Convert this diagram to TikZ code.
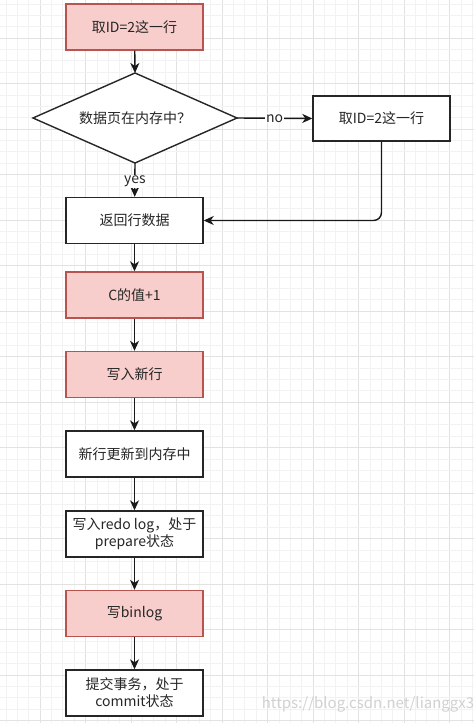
\documentclass[tikz,border=0pt]{standalone}
\usepackage{fontspec}
\setmainfont{Noto Sans CJK SC}
\usetikzlibrary{shapes.geometric,arrows.meta}
\definecolor{pinkfill}{HTML}{F8CECC}
\definecolor{pinkline}{HTML}{B85450}
\definecolor{gridminor}{HTML}{F2F2F2}
\definecolor{gridmajor}{HTML}{E2E2E2}
\begin{document}
\begin{tikzpicture}[x=1pt,y=-1pt,
  every node/.style={font=\fontsize{14}{17}\selectfont,text=black!85},
  box/.style={draw=black!85,line width=1.4pt,fill=white,rectangle,minimum width=137pt,minimum height=46pt,inner sep=2pt,align=center},
  pinkbox/.style={box,draw=pinkline,fill=pinkfill},
  dshape/.style={draw=black!85,line width=1.4pt,fill=white},
  flow/.style={draw=black!90,line width=1.4pt,-{Stealth[length=10pt,width=9pt,inset=3pt]}},
  lbl/.style={fill=white,inner sep=1pt}]
\useasboundingbox (0,0) rectangle (474,723);
\fill[white] (0,0) rectangle (474,723);
% grid
\foreach \i in {0,...,42}{
  \pgfmathsetmacro{\xx}{-5.5+11.375*\i}
  \pgfmathtruncatemacro{\m}{mod(\i,4)}
  \ifnum\m=0 \draw[gridmajor,line width=0.8pt] (\xx,0) -- (\xx,723);
  \else \draw[gridminor,line width=0.6pt] (\xx,0) -- (\xx,723); \fi
}
\foreach \j in {0,...,64}{
  \pgfmathsetmacro{\yy}{-7.5+11.375*\j}
  \pgfmathtruncatemacro{\m}{mod(\j,4)}
  \ifnum\m=0 \draw[gridmajor,line width=0.8pt] (0,\yy) -- (474,\yy);
  \else \draw[gridminor,line width=0.6pt] (0,\yy) -- (474,\yy); \fi
}
% nodes
\node[pinkbox] (n1) at (134.5,27) {取ID=2这一行};
\coordinate (dt) at (135,73);
\coordinate (db) at (135,163);
\coordinate (dl) at (33,118);
\coordinate (dr) at (237,118);
\draw[dshape] (dt) -- (dr) -- (db) -- (dl) -- cycle;
\node (d) at (135,118) {数据页在内存中？};
\node[box,minimum height=45pt] (r) at (381.5,118.5) {取ID=2这一行};
\node[box] (n2) at (134.5,220.5) {返回行数据};
\node[pinkbox] (n3) at (134.5,295) {C的值+1};
\node[pinkbox] (n4) at (134.5,374.5) {写入新行};
\node[box] (n5) at (134.5,454) {新行更新到内存中};
\node[box] (n6) at (134.5,534) {写入redo log，处于\\prepare状态};
\node[pinkbox] (n7) at (134.5,613.5) {写binlog};
\node[box] (n8) at (134.5,693) {提交事务，处于\\commit状态};
% edges
\draw[flow] (n1) -- (dt);
\draw[flow] (db) -- node[lbl,pos=0.55] {yes} (n2);
\draw[flow] (dr) -- node[lbl,pos=0.5] {no} (r.west);
\draw[flow,rounded corners=8pt] (r.south) |- (n2.east);
\draw[flow] (n2) -- (n3);
\draw[flow] (n3) -- (n4);
\draw[flow] (n4) -- (n5);
\draw[flow] (n5) -- (n6);
\draw[flow] (n6) -- (n7);
\draw[flow] (n7) -- (n8);
% watermark
\node[text=black!18,font=\fontsize{15}{17}\selectfont] (wm) at (368,704) {https://blog.csdn.net/lianggx3};
\end{tikzpicture}
\end{document}
